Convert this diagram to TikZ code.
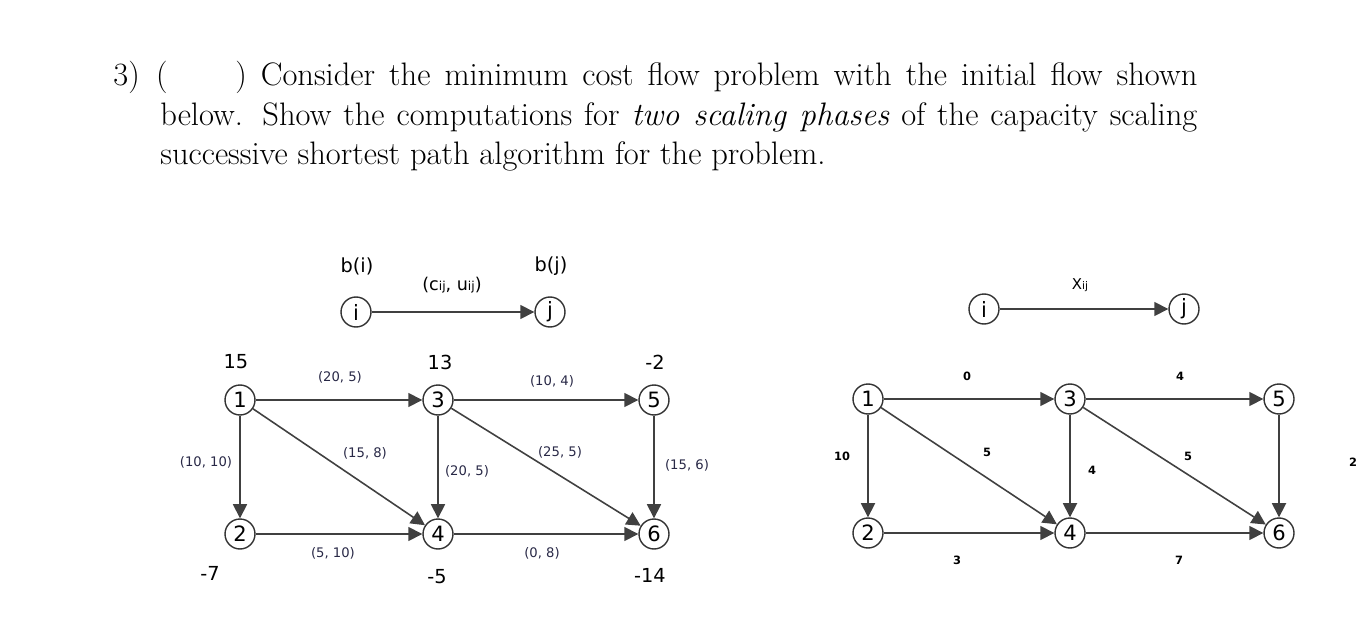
\documentclass[tikz,border=0pt]{standalone}
\usepackage{fontspec}
\newfontfamily\lab{DejaVu Sans}
\usetikzlibrary{arrows.meta}
\definecolor{lbl}{RGB}{40,40,70}
\begin{document}
\begin{tikzpicture}[x=0.02cm,y=-0.02cm,
  nd/.style={circle,draw=black!80,thick,minimum size=0.6cm,inner sep=0pt,font=\lab\fontsize{12}{12}\selectfont},
  ar/.style={draw=black!75,line width=0.9pt,-{Triangle[length=8pt,width=8pt]}},
  el/.style={text=lbl,font=\lab\fontsize{7.5}{8}\selectfont},
  bl/.style={text=black,font=\lab\fontsize{11}{12}\selectfont},
  fl/.style={text=black,font=\lab\bfseries\fontsize{6.5}{7}\selectfont}]
\useasboundingbox (0,0) rectangle (1362,628);
\node[anchor=base west,inner sep=0pt,text width=1084*0.02cm,align=justify,font=\fontsize{18.5}{22.2}\selectfont] (t) at (113,86)
{\hangindent=47\dimexpr0.02cm\relax\hangafter=1 3)\enspace(\hphantom{30 pt}) Consider the minimum cost flow problem with the initial flow shown\linebreak below. Show the computations for \emph{two scaling phases} of the capacity scaling\linebreak successive shortest path algorithm for the problem.\par};
% legend left
\node[nd] (li) at (356,312) {i};
\node[nd] (lj) at (550,312) {j};
\draw[ar] (li) -- (lj);
\node[bl] (lbi) at (357,266) {b(i)};
\node[bl] (lbj) at (551,266) {b(j)};
\node[bl,font=\lab\fontsize{10}{10}\selectfont] (lc) at (452,285) {(c{\fontsize{7}{7}\selectfont ij}, u{\fontsize{7}{7}\selectfont ij})};
% left graph
\node[nd] (a1) at (240,400) {1};
\node[nd] (a3) at (438,400) {3};
\node[nd] (a5) at (654,400) {5};
\node[nd] (a2) at (240,534) {2};
\node[nd] (a4) at (438,534) {4};
\node[nd] (a6) at (654,534) {6};
\draw[ar] (a1) -- (a3); \draw[ar] (a3) -- (a5);
\draw[ar] (a1) -- (a2); \draw[ar] (a1) -- (a4);
\draw[ar] (a3) -- (a4); \draw[ar] (a3) -- (a6);
\draw[ar] (a5) -- (a6); \draw[ar] (a2) -- (a4);
\draw[ar] (a4) -- (a6);
\node[bl] (s1) at (236,362) {15};
\node[bl] (s3) at (440,362) {13};
\node[bl] (s5) at (655,362) {-2};
\node[bl] (s2) at (210,573) {-7};
\node[bl] (s4) at (437,577) {-5};
\node[bl] (s6) at (650,575) {-14};
\node[el] (e13) at (340,377) {(20, 5)};
\node[el] (e35) at (552,381) {(10, 4)};
\node[el] (e12) at (206,462) {(10, 10)};
\node[el] (e14) at (365,453) {(15, 8)};
\node[el] (e34) at (467,471) {(20, 5)};
\node[el] (e36) at (560,452) {(25, 5)};
\node[el] (e56) at (687,465) {(15, 6)};
\node[el] (e24) at (333,553) {(5, 10)};
\node[el] (e46) at (542,553) {(0, 8)};
% right legend
\node[nd] (ri) at (984,309) {i};
\node[nd] (rj) at (1184,309) {j};
\draw[ar] (ri) -- (rj);
\node[bl,font=\lab\fontsize{8.5}{9}\selectfont] (rx) at (1080,285) {X{\fontsize{6}{6}\selectfont ij}};
% right graph
\node[nd] (b1) at (868,399) {1};
\node[nd] (b3) at (1070,399) {3};
\node[nd] (b5) at (1279,399) {5};
\node[nd] (b2) at (868,533) {2};
\node[nd] (b4) at (1070,533) {4};
\node[nd] (b6) at (1279,533) {6};
\draw[ar] (b1) -- (b3); \draw[ar] (b3) -- (b5);
\draw[ar] (b1) -- (b2); \draw[ar] (b1) -- (b4);
\draw[ar] (b3) -- (b4); \draw[ar] (b3) -- (b6);
\draw[ar] (b5) -- (b6); \draw[ar] (b2) -- (b4);
\draw[ar] (b4) -- (b6);
\node[fl] (f13) at (967,376) {0};
\node[fl] (f35) at (1180,376) {4};
\node[fl] (f12) at (842,456) {10};
\node[fl] (f14) at (987,452) {5};
\node[fl] (f34) at (1092,470) {4};
\node[fl] (f36) at (1188,456) {5};
\node[fl] (f56) at (1353,462) {2};
\node[fl] (f24) at (957,560) {3};
\node[fl] (f46) at (1179,560) {7};
\end{tikzpicture}
\end{document}
